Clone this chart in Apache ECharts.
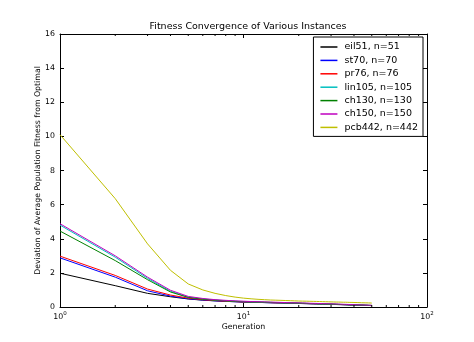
<!DOCTYPE html>
<html><head><meta charset="utf-8">
<script src="https://cdn.jsdelivr.net/npm/echarts@6/dist/echarts.min.js"></script>
<style>html,body{margin:0;padding:0;background:#fff}#c{width:474px;height:342px}</style>
</head><body><div id="c"></div>
<script>
const generations = Array.from({length: 50}, (_, i) => i + 1);
const eil51 = [1.98,1.25,0.80,0.60,0.47,0.40,0.36,0.33,0.31,0.29,0.28,0.27,0.26,0.25,0.24,0.235,0.23,0.22,0.215,0.21,0.20,0.195,0.19,0.185,0.18,0.175,0.17,0.165,0.16,0.155,0.15,0.145,0.14,0.14,0.135,0.13,0.125,0.12,0.12,0.115,0.11,0.11,0.105,0.10,0.10,0.095,0.09,0.09,0.085,0.08];
const st70 = [2.88,1.75,0.95,0.64,0.48,0.41,0.36,0.33,0.31,0.29,0.28,0.27,0.26,0.25,0.245,0.24,0.23,0.225,0.22,0.21,0.205,0.20,0.195,0.19,0.185,0.18,0.175,0.17,0.165,0.16,0.155,0.15,0.145,0.14,0.14,0.135,0.13,0.125,0.12,0.12,0.115,0.11,0.11,0.105,0.10,0.10,0.095,0.09,0.09,0.085];
const pr76 = [2.98,1.85,1.05,0.70,0.52,0.43,0.38,0.34,0.32,0.30,0.29,0.28,0.27,0.26,0.25,0.245,0.24,0.23,0.225,0.22,0.21,0.205,0.20,0.195,0.19,0.185,0.18,0.175,0.17,0.165,0.16,0.155,0.15,0.145,0.14,0.14,0.135,0.13,0.125,0.12,0.12,0.115,0.11,0.11,0.105,0.10,0.10,0.095,0.09,0.09];
const lin105 = [4.80,2.92,1.68,0.92,0.58,0.47,0.41,0.37,0.34,0.32,0.30,0.29,0.28,0.27,0.26,0.25,0.245,0.24,0.23,0.225,0.22,0.21,0.205,0.20,0.195,0.19,0.185,0.18,0.175,0.17,0.165,0.16,0.155,0.15,0.145,0.14,0.14,0.135,0.13,0.125,0.12,0.12,0.115,0.11,0.11,0.105,0.10,0.10,0.095,0.09];
const ch130 = [4.45,2.72,1.60,0.88,0.56,0.46,0.40,0.36,0.33,0.31,0.30,0.29,0.28,0.27,0.26,0.25,0.24,0.235,0.23,0.22,0.215,0.21,0.20,0.195,0.19,0.185,0.18,0.175,0.17,0.165,0.16,0.155,0.15,0.145,0.14,0.14,0.135,0.13,0.125,0.12,0.12,0.115,0.11,0.11,0.105,0.10,0.10,0.095,0.09,0.09];
const ch150 = [4.88,3.00,1.75,0.98,0.62,0.50,0.43,0.39,0.36,0.34,0.32,0.31,0.30,0.29,0.28,0.27,0.26,0.25,0.245,0.24,0.235,0.23,0.22,0.215,0.21,0.205,0.20,0.195,0.19,0.185,0.18,0.175,0.17,0.165,0.16,0.155,0.15,0.145,0.14,0.135,0.13,0.125,0.12,0.12,0.115,0.11,0.11,0.105,0.10,0.10];
const pcb442 = [10.10,6.35,3.70,2.15,1.35,1.00,0.80,0.67,0.58,0.52,0.48,0.45,0.43,0.41,0.40,0.39,0.38,0.37,0.36,0.35,0.345,0.34,0.335,0.33,0.325,0.32,0.315,0.31,0.305,0.30,0.295,0.29,0.29,0.285,0.28,0.28,0.275,0.27,0.27,0.265,0.26,0.26,0.255,0.25,0.25,0.245,0.24,0.24,0.235,0.23];
const seriesNames = ['eil51, n=51','st70, n=70','pr76, n=76','lin105, n=105','ch130, n=130','ch150, n=150','pcb442, n=442'];
const seriesColors = ['#000000','#0000ff','#ff0000','#00bfbf','#008000','#bf00bf','#bfbf00'];
const yTicks = [0,2,4,6,8,10,12,14,16];
const xMajor = [1,10,100];
const xMinor = [2,3,4,5,6,7,8,9,20,30,40,50,60,70,80,90];

const allData = [eil51, st70, pr76, lin105, ch130, ch150, pcb442];
const font = 'DejaVu Sans';
const chart = echarts.init(document.getElementById('c'), null, {renderer: 'canvas'});

const lineSeries = allData.map((arr, i) => ({
  name: seriesNames[i], type: 'line', xAxisIndex: 0, yAxisIndex: 0,
  data: generations.map((g, j) => [g, arr[j]]),
  showSymbol: false, symbol: 'none', smooth: false,
  lineStyle: {color: seriesColors[i], width: 1},
  itemStyle: {color: seriesColors[i]},
  animation: false, z: 3 + i
}));

const minorSeries = {
  type: 'custom', xAxisIndex: 0, yAxisIndex: 0, silent: true, animation: false, z: 10,
  data: xMinor.map(v => [v, 0]),
  renderItem: function (params, api) {
    const v = api.value(0);
    const b = api.coord([v, yTicks[0]]);
    const t = api.coord([v, yTicks[yTicks.length - 1]]);
    return {type: 'group', children: [
      {type: 'line', shape: {x1: b[0], y1: b[1], x2: b[0], y2: b[1] - 2}, style: {stroke: '#000', lineWidth: 1}},
      {type: 'line', shape: {x1: t[0], y1: t[1], x2: t[0], y2: t[1] + 2}, style: {stroke: '#000', lineWidth: 1}}
    ]};
  }
};

const supFmt = v => '{b|10}{s|' + Math.round(Math.log10(v)) + '}';

chart.setOption({
  backgroundColor: '#fff',
  animation: false,
  title: {
    text: 'Fitness Convergence of Various Instances', left: 243, top: 17, textAlign: 'center',
    textStyle: {fontFamily: font, fontSize: 9.5, fontWeight: 'normal', color: '#000'}
  },
  legend: {
    orient: 'vertical', right: 51, top: 37, data: seriesNames,
    backgroundColor: '#fff', borderColor: '#000', borderWidth: 1,
    padding: [5, 5, 4, 7], itemGap: 3.4, itemWidth: 17, itemHeight: 1.5, icon: 'rect',
    textStyle: {fontFamily: font, fontSize: 9.5, color: '#000', padding: [0, 0, 0, 2]}
  },
  grid: {left: 60, right: 47, top: 34, bottom: 35, show: false},
  xAxis: [
    {type: 'log', logBase: 10, min: xMajor[0], max: xMajor[2], position: 'bottom',
     name: 'Generation', nameLocation: 'middle', nameGap: 16, nameMoveOverlap: false,
     nameTextStyle: {fontFamily: font, fontSize: 7.8, color: '#000'},
     axisLine: {show: true, lineStyle: {color: '#000', width: 1}},
     axisTick: {show: true, inside: true, length: 4, lineStyle: {color: '#000'}},
     splitLine: {show: false},
     axisLabel: {formatter: supFmt, margin: 4, color: '#000',
       rich: {b: {fontFamily: font, fontSize: 7.8, color: '#000'},
              s: {fontFamily: font, fontSize: 5.5, color: '#000', padding: [0, 0, 5, 0]}}}},
    {type: 'log', logBase: 10, min: xMajor[0], max: xMajor[2], position: 'top',
     axisLine: {show: true, onZero: false, lineStyle: {color: '#000', width: 1}},
     axisTick: {show: true, inside: true, length: 4, lineStyle: {color: '#000'}},
     axisLabel: {show: false}, splitLine: {show: false}}
  ],
  yAxis: [
    {type: 'value', min: yTicks[0], max: yTicks[yTicks.length - 1], interval: 2, position: 'left',
     name: 'Deviation of Average Population Fitness from Optimal', nameLocation: 'middle', nameGap: 18, nameMoveOverlap: false,
     nameTextStyle: {fontFamily: font, fontSize: 7.8, color: '#000'},
     axisLine: {show: true, lineStyle: {color: '#000', width: 1}},
     axisTick: {show: true, inside: true, length: 4, lineStyle: {color: '#000'}},
     splitLine: {show: false},
     axisLabel: {fontFamily: font, fontSize: 7.8, color: '#000', margin: 5}},
    {type: 'value', min: yTicks[0], max: yTicks[yTicks.length - 1], interval: 2, position: 'right',
     axisLine: {show: true, onZero: false, lineStyle: {color: '#000', width: 1}},
     axisTick: {show: true, inside: true, length: 4, lineStyle: {color: '#000'}},
     axisLabel: {show: false}, splitLine: {show: false}}
  ],
  series: lineSeries.concat([minorSeries])
});
</script></body></html>
